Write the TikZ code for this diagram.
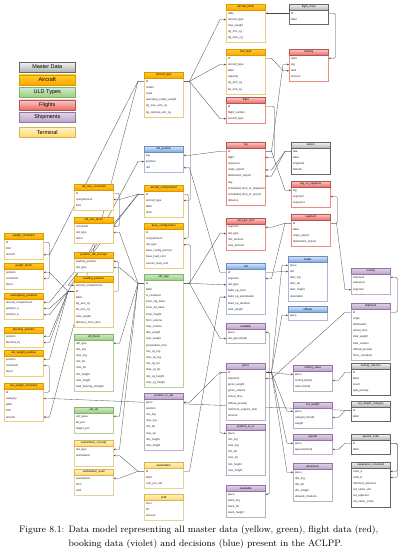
\documentclass[tikz,border=0pt]{standalone}
\usepackage{fontspec}
\newfontfamily\tabfont{Liberation Sans}
\usetikzlibrary{arrows.meta,calc}
\pgfdeclarelayer{bg}
\pgfsetlayers{bg,main}
\definecolor{grT}{HTML}{F5F5F5}\definecolor{grB}{HTML}{B3B3B3}\definecolor{grS}{HTML}{666666}
\definecolor{acT}{HTML}{FFCD28}\definecolor{acB}{HTML}{FFA500}\definecolor{acS}{HTML}{D79B00}
\definecolor{gnT}{HTML}{D5E8D4}\definecolor{gnB}{HTML}{97D077}\definecolor{gnS}{HTML}{82B366}
\definecolor{rdT}{HTML}{F8CECC}\definecolor{rdB}{HTML}{EA6B66}\definecolor{rdS}{HTML}{B85450}
\definecolor{vlT}{HTML}{E1D5E7}\definecolor{vlB}{HTML}{B9A3C9}\definecolor{vlS}{HTML}{9673A6}
\definecolor{tmT}{HTML}{FFF2CC}\definecolor{tmB}{HTML}{FFD966}\definecolor{tmS}{HTML}{D6B656}
\definecolor{blT}{HTML}{DAE8FC}\definecolor{blB}{HTML}{7EA6E0}\definecolor{blS}{HTML}{6C8EBF}
\tikzset{
 hdr/.style={anchor=north west,minimum width=39.5pt,minimum height=6.2pt,inner sep=0pt,outer sep=0pt,line width=0.5pt,font=\tabfont\fontsize{2.8}{3}\selectfont},
 rowc/.style={anchor=north west,minimum width=39.5pt,minimum height=6.2pt,inner sep=0pt,outer sep=0pt},
 rowt/.style={anchor=west,inner xsep=1.8pt,inner ysep=0pt,font=\tabfont\fontsize{2.8}{3}\selectfont,text=black!85},
 kac/.style={top color=acT,bottom color=acB,draw=acS}, kacb/.style={draw=acS!50},
 kgr/.style={top color=grT,bottom color=grB,draw=grS}, kgrb/.style={draw=grS},
 kgn/.style={top color=gnT,bottom color=gnB,draw=gnS}, kgnb/.style={draw=gnS!60},
 krd/.style={top color=rdT,bottom color=rdB,draw=rdS}, krdb/.style={draw=rdB!80},
 kvl/.style={top color=vlT,bottom color=vlB,draw=vlS}, kvlb/.style={draw=vlS!60},
 ktm/.style={top color=tmT,bottom color=tmB,draw=tmS}, ktmb/.style={draw=tmS!60},
 kbl/.style={top color=blT,bottom color=blB,draw=blS}, kblb/.style={draw=blS!60},
 fk/.style={draw=black!72,line width=0.3pt,-{Stealth[length=2.2pt,width=1.8pt]}},
 rc/.style={rounded corners=1.5pt},
 erR/.style={to path={-- ++(6,0) -- ($(\tikztotarget)+(-6,0)$) -- (\tikztotarget)}},
 erL/.style={to path={-- ++(-6,0) -- ($(\tikztotarget)+(6,0)$) -- (\tikztotarget)}},
 erLL/.style={to path={-- ++(-6,0) -- ($(\tikztotarget)+(-6,0)$) -- (\tikztotarget)}},
 legbox/.style={anchor=north west,minimum width=56pt,minimum height=10pt,inner sep=0pt,line width=0.6pt,font=\tabfont\fontsize{5.5}{6}\selectfont},
}
% name, x, y, kind, frame rows, title, rows
\newcommand\tbl[7]{%
  \draw[#4b,fill=white,line width=0.5pt] (#2,#3+6.2) rectangle ++(39.5,#5*6.2+1.5);
  \node[hdr,#4] (#1) at (#2,#3) {#6};
  \foreach \fld [count=\i] in {#7}{%
    \node[rowc,label={[rowt]west:\fld}] (#1-\i) at (#2,#3+6.2+\i*6.2-6.2) {};
  }%
}
\begin{document}
\begin{tikzpicture}[x=1pt,y=-1pt]
\useasboundingbox (0,0) rectangle (400,554);
% legend
\node[legbox,kgr] (lgMaster) at (19,61.5) {Master Data};
\node[legbox,kac] (lgAircraft) at (19,74.5) {Aircraft};
\node[legbox,kgn] (lgUld) at (19,87) {ULD Types};
\node[legbox,krd] (lgFlights) at (19,99.5) {Flights};
\node[legbox,kvl] (lgShip) at (19,112) {Shipments};
\node[legbox,ktm] (lgTerm) at (19,127) {Terminal};
% column A
\tbl{wc}{4}{233}{kac}{3}{weight\_constraint}{id,limit,aircraft}
\tbl{wf}{4}{263}{kac}{3}{weight\_factor}{position,constraint,factor}
\tbl{op}{4}{293}{kac}{3}{overlapping\_positions}{aircraft\_compartment,position\_a,position\_b}
\tbl{bp}{4}{327}{kac}{2}{blocking\_position}{position,blocked\_by}
\tbl{nwp}{4}{350}{kac}{3}{net\_weight\_position}{position,constraint,factor}
\tbl{nwk}{4}{383}{kac}{5}{net\_weight\_constraint}{id,category,label,limit,aircraft}
% column B
\tbl{usc}{74}{184}{kac}{3}{uld\_size\_constraint}{id,compartment,limit}
\tbl{usf}{74}{217}{kac}{3}{uld\_size\_factor}{constraint,uld\_type,factor}
\tbl{puc}{74}{252}{kac}{2}{position\_uld\_concept}{loading\_position,uld\_type}
\tbl{lp}{74}{276}{kac}{7}{loading\_position}{aircraft\_compartment,id,label,trg\_arm\_cg,lat\_arm\_cg,max\_weight,distance\_from\_door}
\tbl{ub}{74}{334}{kgn}{8}{uld\_block}{uld\_type,min\_lng,max\_lng,min\_lat,max\_lat,min\_height,max\_height,load\_bearing\_strength}
\tbl{us}{74}{407}{kgn}{3}{uld\_set}{uld\_types,lat\_pos,height\_pos}
\tbl{wsc}{74}{440}{ktm}{3}{workstation\_concept}{uld\_type,workstation}
\tbl{wsa}{74}{469}{ktm}{3}{workstation\_avail}{workstation,from,until}
% column C
\tbl{at}{144}{72}{kac}{6}{aircraft\_type}{id,model,class,operating\_empty\_weight,trg\_max\_arm\_cg,trg\_optimal\_arm\_cg}
\tbl{up}{144}{146}{kbl}{3}{uld\_position}{leg,position,uld}
\tbl{acp}{144}{185}{kac}{4}{aircraft\_compartment}{id,aircraft\_type,label,deck}
\tbl{bc}{144}{223}{kac}{6}{base\_configuration}{id,compartment,uld\_type,base\_config\_amount,base\_load\_cost,excess\_load\_cost}
\tbl{ut}{144}{274}{kgn}{17}{uld\_type}{id,label,is\_container,inner\_lng\_base,inner\_lat\_base,inner\_height,form\_volume,max\_volume,tare\_weight,max\_weight,preparation\_time,min\_cg\_lng,max\_cg\_lng,min\_cg\_lat,max\_cg\_lat,min\_cg\_height,max\_cg\_height}
\tbl{piu}{144}{393}{kvl}{8}{position\_in\_uld}{piece,position,min\_lng,max\_lng,min\_lat,max\_lat,min\_height,max\_height}
\tbl{ws}{144}{462}{ktm}{3}{workstation}{id,label,cost\_per\_uld}
\tbl{stf}{144}{494}{ktm}{3}{staff}{from,till,amount}
% column D
\tbl{al}{226}{4}{kac}{5}{aircraft\_limits}{wide,aircraft\_type,max\_weight,trg\_min\_cg,trg\_max\_cg}
\tbl{ft}{226}{49}{kac}{6}{fuel\_tank}{id,aircraft\_type,label,capacity,trg\_arm\_cg,lat\_arm\_cg}
\tbl{fl}{226}{97}{krd}{3}{flight}{id,flight\_number,aircraft\_type}
\tbl{lg}{226}{142}{krd}{9}{leg}{id,flight,sequence,origin\_airport,destination\_airport,day,scheduled\_time\_of\_departure,scheduled\_time\_of\_arrival,distance}
\tbl{utl}{226}{218}{krd}{4}{uld\_type\_limit}{segment,uld\_type,min\_amount,max\_amount}
\tbl{uld}{226}{263}{kbl}{7}{uld}{id,segment,uld\_type,build\_up\_start,build\_up\_workstation,build\_up\_duration,total\_weight}
\tbl{ldb}{226}{323}{kvl}{2}{loadable}{piece,uld\_type (fixed)}
\tbl{pc}{226}{363}{kvl}{8}{piece}{id,shipment,gross\_weight,gross\_volume,actual\_time,offload\_penalty,minimum\_support\_ratio,amount}
\tbl{pcu}{226}{424}{kvl}{7}{position\_in\_uc}{piece,min\_lng,max\_lng,min\_lat,max\_lat,min\_height,max\_height}
\tbl{stk}{226}{485}{kvl}{4}{stackable}{piece,stack\_lng,stack\_lat,stack\_height}
% column E
\tbl{fc}{289}{4}{kgr}{2}{flight\_class}{id,label}
\tbl{lo}{289}{49}{krd}{4}{loading}{state,leg,tank,amount}
\tbl{ap}{291}{142}{kgr}{4}{airport}{iata,label,longitude,latitude}
\tbl{los}{291}{181}{krd}{3}{leg\_on\_segment}{leg,segment,sequence}
\tbl{seg}{291}{214}{krd}{4}{segment}{id,label,origin\_airport,destination\_airport}
\tbl{ldr}{288}{256}{kbl}{6}{loader}{piece,uld,start\_lng,start\_lat,start\_height,orientation}
\tbl{off}{288}{306}{kbl}{1}{offload}{piece}
\tbl{sv}{293}{365}{kvl}{3}{sorting\_value}{piece,sorting (fixed),value (fixed)}
\tbl{nw}{293}{402}{kvl}{3}{net\_weight}{piece,category (fixed),weight}
\tbl{sp}{293}{434}{kvl}{2}{special}{piece,special (fixed)}
\tbl{dim}{293}{463}{kvl}{5}{dimension}{piece,dim\_lng,dim\_lat,dim\_height,allowed\_rotations}
% column F
\tbl{rt}{351}{268}{kvl}{3}{routing}{shipment,sequence,segment}
\tbl{shp}{351}{303}{kvl}{8}{shipment}{id,origin,destination,arrival\_time,total\_weight,total\_volume,offload\_penalty,force\_complete}
\tbl{scr}{351}{363}{kgr}{4}{sorting\_criterion}{id,label,invert,split\_penalty}
\tbl{nwc}{351}{401}{kgr}{2}{net\_weight\_category}{id,label}
\tbl{spc}{351}{434}{kgr}{2}{special\_code}{id,label}
\tbl{sep}{351}{462}{kgr}{6}{separation\_constraint}{code\_a,code\_b,minimum\_distance,not\_same\_uld,not\_adjacent,not\_same\_comp}
% caption
\node[anchor=west,inner sep=0pt,font=\fontsize{9.3}{11}\selectfont] (cap1) at (19,530) {Figure 8.1: Data model representing all master data (yellow, green), flight data (red),};
\node[anchor=west,inner sep=0pt,font=\fontsize{9.3}{11}\selectfont] (cap2) at (19,544) {\phantom{Figure 8.1: }booking data (violet) and decisions (blue) present in the ACLPP.};
% connectors
\begin{pgfonlayer}{bg}
\draw[fk] (at-1.east) to[erR] (al-2.west);
\draw[fk] (at-1.east) to[erR] (ft-2.west);
\draw[fk] (at-1.east) to[erR] (fl-3.west);
\draw[fk,rc] (at-1.east) -- ++(7,0) |- (acp-2.east);
\draw[fk] (at-1.west) to[erL] (wc-3.east);
\draw[fk] (at-1.west) to[erL] (nwk-5.east);
\draw[fk] (fc-1.west) -- (al-1.east);
\draw[fk,rc] (fc-1.east) -- ++(7,0) |- (lo-1.east);
\draw[fk] (ft-1.east) to[erR] (lo-3.west);
\draw[fk] (lg-1.east) to[erR] (lo-2.west);
\draw[fk,rc] (fl-1.east) -- ++(9,0) |- (lg-2.east);
\draw[fk] (ap-1.west) to[erL] (lg-4.east);
\draw[fk] (ap-1.west) to[erL] (lg-5.east);
\draw[fk] (lg-1.east) to[erR] (los-1.west);
\draw[fk,rc] (seg-1.east) -- ++(7,0) |- (los-2.east);
\draw[fk] (seg-1.east) to[erR] (rt-3.west);
\draw[fk] (seg-1.west) to[erL] (utl-1.east);
\draw[fk] (seg-1.west) to[erL] (uld-2.east);
\draw[fk] (lg-1.west) to[erL] (up-1.east);
\draw[fk] (uld-1.west) to[erL] (up-3.east);
\draw[fk] (uld-1.east) to[erR] (ldr-2.west);
\draw[fk] (ut-1.east) to[erR] (uld-3.west);
\draw[fk] (ut-1.east) to[erR] (utl-2.west);
\draw[fk,rc] (ut-1.east) -- ++(7,0) |- (bc-3.east);
\draw[fk] (ut-1.east) to[erR] (ldb-2.west);
\foreach \tg in {usf-2,puc-2,ub-1,us-1,wsc-1}
  \draw[fk] (ut-1.west) to[erL] (\tg.east);
\draw[fk,rc] (acp-1.east) -- ++(5,0) |- (bc-2.east);
\draw[fk] (acp-1.west) to[erL] (usc-2.east);
\draw[fk] (acp-1.west) to[erLL] (lp-1.west);
\draw[fk] (acp-1.west) to[erL] (op-1.east);
\foreach \tg in {wf-1,op-2,op-3,bp-1,bp-2,nwp-1}
  \draw[fk] (lp-2.west) to[erL] (\tg.east);
\draw[fk] (lp-2.west) to[erLL] (up-2.west);
\draw[fk,rc] (lp-2.east) -- ++(5,0) |- (puc-1.east);
\draw[fk,rc] (wc-1.east) -- ++(6,0) |- (wf-2.east);
\draw[fk,rc] (usc-1.east) -- ++(6,0) |- (usf-1.east);
\draw[fk,rc] (nwk-1.east) -- ++(6,0) |- (nwp-2.east);
\draw[fk] (nwc-1.west) to[erL] (nwk-2.east);
\draw[fk] (nwc-1.west) to[erL] (nw-2.east);
\draw[fk] (spc-1.west) to[erL] (sp-2.east);
\draw[fk,rc] (spc-1.east) -- ++(7,0) |- (sep-1.east);
\draw[fk,rc] (spc-1.east) -- ++(7,0) |- (sep-2.east);
\draw[fk] (scr-1.west) to[erL] (sv-2.east);
\draw[fk,rc] (shp-1.east) -- ++(7,0) |- (rt-1.east);
\draw[fk] (shp-1.west) to[erL] (pc-2.east);
\foreach \tg in {ldr-1,off-1,sv-1,nw-1,sp-1,dim-1}
  \draw[fk] (pc-1.east) to[erR] (\tg.west);
\draw[fk,rc] (pc-1.east) -- ++(4,0) |- (ldb-1.east);
\draw[fk,rc] (pc-1.east) -- ++(4,0) |- (stk-1.east);
\draw[fk] (pc-1.west) to[erL] (piu-1.east);
\draw[fk,rc] (pc-1.west) -- ++(-6,0) |- (pcu-1.west);
\draw[fk] (ws-1.east) to[erR] (uld-5.west);
\draw[fk] (ws-1.west) to[erL] (wsc-2.east);
\draw[fk] (ws-1.west) to[erL] (wsa-1.east);
\end{pgfonlayer}
\end{tikzpicture}
\end{document}
